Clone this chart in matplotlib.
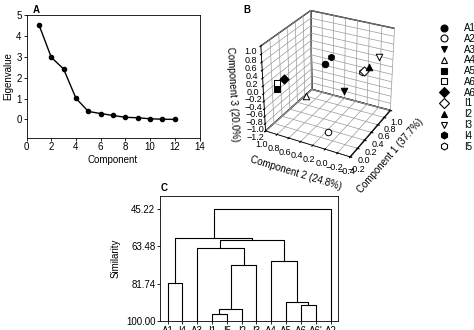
import matplotlib
matplotlib.use("Agg")
import matplotlib.pyplot as plt
from matplotlib.lines import Line2D

plt.rcParams["font.family"] = ["Liberation Sans", "DejaVu Sans"]
plt.rcParams["font.size"] = 7
plt.rcParams["grid.color"] = "#9a9a9a"
plt.rcParams["grid.linewidth"] = 0.5

# panel A: scree plot
components = [1, 2, 3, 4, 5, 6, 7, 8, 9, 10, 11, 12]
eigenvalues = [4.53, 2.97, 2.41, 1.01, 0.38, 0.28, 0.19, 0.10, 0.08, 0.03, 0.01, 0.0]

# panel B: sample scores (component 1, component 2, component 3)
samples = ["A1", "A2", "A3", "A4", "A5", "A6", "A6'", "I1", "I2", "I3", "I4", "I5"]
comp1 = [0.50, -0.10, 0.20, 0.75, 0.05, 0.05, 0.15, 0.60, 0.65, 0.80, 0.55, 0.60]
comp2 = [0.43, 0.02, -0.06, 0.95, 0.95, 0.95, 0.90, -0.14, -0.20, -0.28, 0.37, -0.11]
comp3 = [0.19, -0.85, -0.06, -1.15, -0.30, -0.13, -0.08, 0.15, 0.23, 0.39, 0.35, 0.11]
markers = ["o", "o", "v", "^", "s", "s", "D", "D", "^", "v", "h", "h"]
filled = [True, False, True, False, True, False, True, False, True, False, True, False]

# panel C: dendrogram (leaf order, merges as child, child, similarity)
leaves = ["A1", "I4", "A3", "I1", "I5", "I2", "I3", "A4", "A5", "A6", "A6'", "A2"]
merges = [
    (3, 4, 96.7),
    (12, 5, 94.1),
    (9, 10, 92.2),
    (8, 14, 90.7),
    (13, 6, 72.8),
    (7, 15, 70.7),
    (0, 1, 81.6),
    (2, 16, 64.2),
    (19, 17, 60.3),
    (18, 20, 59.6),
    (21, 11, 45.22),
]
sim_ticks = [45.22, 63.48, 81.74, 100.00]

fig = plt.figure(figsize=(4.74, 3.30), dpi=100)

# ---- A
ax = fig.add_axes([0.056, 0.583, 0.365, 0.372])
ax.plot(components, eigenvalues, color="black", lw=1.0, marker="o", ms=3)
ax.set_xlim(0, 14)
ax.set_ylim(-0.87, 5)
ax.set_xticks(range(0, 15, 2))
ax.set_yticks(range(0, 6))
ax.tick_params(length=2, width=0.6, pad=1.5)
for s in ax.spines.values():
    s.set_linewidth(0.6)
ax.set_xlabel("Component", labelpad=2)
ax.set_ylabel("Eigenvalue", labelpad=2)
fig.text(0.07, 0.985, "A", fontsize=7, fontweight="bold", va="top")

# ---- B
ax3 = fig.add_axes([0.465, 0.48, 0.45, 0.54], projection="3d", proj_type="persp", focal_length=0.7)
for c1, c2, c3, m, f in zip(comp1, comp2, comp3, markers, filled):
    ax3.scatter([c1], [c2], [c3], marker=m, s=22, c="black" if f else "white",
                edgecolors="black", linewidths=0.7, depthshade=False)
ax3.set_xlim(-0.2, 1.0)
ax3.set_ylim(-0.4, 1.0)
ax3.set_zlim(-1.2, 1.0)
ax3.set_xticks([-0.2, 0.0, 0.2, 0.4, 0.6, 0.8, 1.0])
ax3.set_yticks([-0.4, -0.2, 0.0, 0.2, 0.4, 0.6, 0.8, 1.0])
ax3.set_zticks([-1.2, -1.0, -0.8, -0.6, -0.4, -0.2, 0.0, 0.2, 0.4, 0.6, 0.8, 1.0])
ax3.view_init(elev=29, azim=-152)
ax3.set_box_aspect((1.0, 1.0, 1.0), zoom=0.9)
for a in (ax3.xaxis, ax3.yaxis, ax3.zaxis):
    a.set_pane_color((1, 1, 1, 1))
    a.pane.set_edgecolor("black")
    a.line.set_linewidth(0.6)
ax3.tick_params(labelsize=6.5, pad=-3)
ax3.set_xlabel("Component 1 (37.7%)", labelpad=-6)
ax3.set_ylabel("Component 2 (24.8%)", labelpad=-6)
ax3.set_zlabel("Component 3 (20.0%)", labelpad=-6)
fig.text(0.513, 0.985, "B", fontsize=7, fontweight="bold", va="top")

handles = [Line2D([], [], ls="none", marker=m, ms=5,
                  markerfacecolor="black" if f else "white", markeredgecolor="black", markeredgewidth=0.8)
           for m, f in zip(markers, filled)]
fig.legend(handles, samples, loc="upper left", bbox_to_anchor=(0.917, 0.945), frameon=False,
           fontsize=7, labelspacing=0.08, handletextpad=1.5, handlelength=1.0, borderpad=0)

# ---- C
axc = fig.add_axes([0.338, 0.027, 0.375, 0.379])
pos = {i: float(i) for i in range(len(leaves))}
hgt = {i: 100.0 for i in range(len(leaves))}
for k, (a, b, h) in enumerate(merges):
    axc.plot([pos[a], pos[a], pos[b], pos[b]], [hgt[a], h, h, hgt[b]], color="black", lw=0.8)
    node = len(leaves) + k
    pos[node] = (pos[a] + pos[b]) / 2
    hgt[node] = h
axc.set_xlim(-0.5, 11.5)
axc.set_ylim(100, 38.9)
axc.set_yticks(sim_ticks)
axc.set_yticklabels([f"{t:.2f}" for t in sim_ticks])
axc.set_xticks(range(len(leaves)))
axc.set_xticklabels(leaves)
axc.tick_params(length=2, width=0.6, pad=1.5)
for s in axc.spines.values():
    s.set_linewidth(0.6)
axc.set_ylabel("Similarity", labelpad=4)
fig.text(0.338, 0.445, "C", fontsize=7, fontweight="bold", va="top")

fig.savefig("out.png", dpi=100)
